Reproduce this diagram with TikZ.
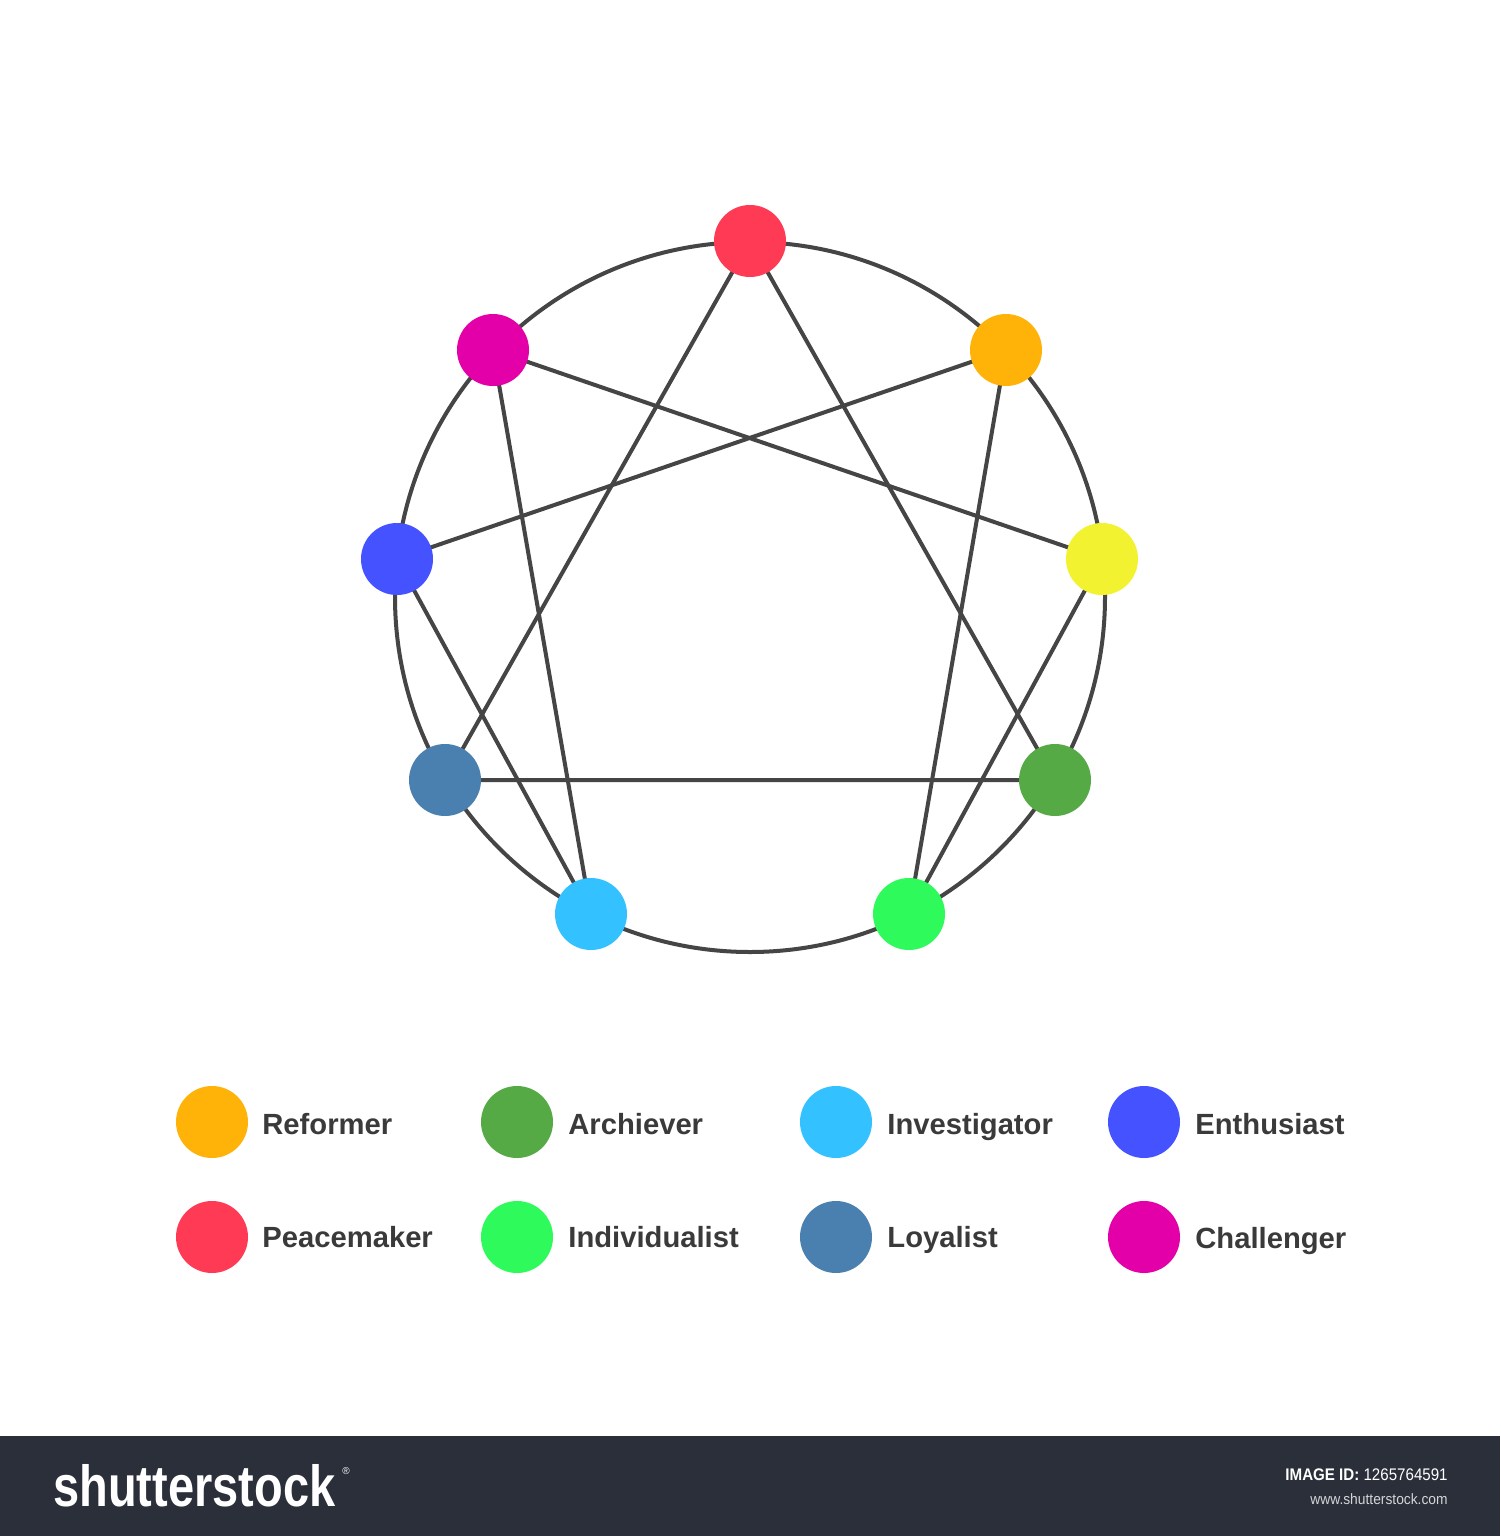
\documentclass[tikz,border=0pt]{standalone}
\usepackage{fontspec}
\setmainfont{Liberation Sans}
\begin{document}
\begin{tikzpicture}[x=0.5pt,y=-0.5pt,
  dot/.style={circle,minimum size=36pt,inner sep=0pt,draw=none},
  link/.style={draw=linegray,line width=2pt},
  legtext/.style={anchor=base west,inner sep=0pt,font=\bfseries\fontsize{14.6pt}{16pt}\selectfont,text=textgray}]
\definecolor{linegray}{HTML}{454545}
\definecolor{textgray}{HTML}{3A3A3A}
\definecolor{cRed}{HTML}{FF3A55}
\definecolor{cOrange}{HTML}{FFB208}
\definecolor{cYellow}{HTML}{F2F230}
\definecolor{cGreen}{HTML}{55AA45}
\definecolor{cLGreen}{HTML}{2EFA5C}
\definecolor{cLBlue}{HTML}{33C2FF}
\definecolor{cSteel}{HTML}{4A80B0}
\definecolor{cBlue}{HTML}{4452FF}
\definecolor{cMagenta}{HTML}{E300A8}
\definecolor{banner}{HTML}{2A2F3A}
\useasboundingbox (0,0) rectangle (1500,1536);
\fill[white] (0,0) rectangle (1500,1536);
% circle
\draw[link] (750,597) circle[radius=177.5pt];
% node coordinates
\coordinate (p9) at (750,241);
\coordinate (p1) at (1006,350);
\coordinate (p2) at (1102,559);
\coordinate (p3) at (1055,780);
\coordinate (p4) at (909,914);
\coordinate (p5) at (591,914);
\coordinate (p6) at (445,780);
\coordinate (p7) at (397,559);
\coordinate (p8) at (493,350);
% lines
\draw[link] (p9) -- (p3) -- (p6) -- cycle;
\draw[link] (p1) -- (p4) -- (p2) -- (p8) -- (p5) -- (p7) -- cycle;
% nodes
\node[dot,fill=cRed] (n9) at (p9) {};
\node[dot,fill=cOrange] (n1) at (p1) {};
\node[dot,fill=cYellow] (n2) at (p2) {};
\node[dot,fill=cGreen] (n3) at (p3) {};
\node[dot,fill=cLGreen] (n4) at (p4) {};
\node[dot,fill=cLBlue] (n5) at (p5) {};
\node[dot,fill=cSteel] (n6) at (p6) {};
\node[dot,fill=cBlue] (n7) at (p7) {};
\node[dot,fill=cMagenta] (n8) at (p8) {};
% legend
\node[dot,fill=cOrange] (l1) at (212,1122) {};
\node[legtext] (t1) at (262,1134) {Reformer};
\node[dot,fill=cRed] (l9) at (212,1237) {};
\node[legtext] (t9) at (262,1247) {Peacemaker};
\node[dot,fill=cGreen] (l3) at (517,1122) {};
\node[legtext] (t3) at (568,1134) {Archiever};
\node[dot,fill=cLGreen] (l4) at (517,1237) {};
\node[legtext] (t4) at (568,1247) {Individualist};
\node[dot,fill=cLBlue] (l5) at (836,1122) {};
\node[legtext] (t5) at (887,1134) {Investigator};
\node[dot,fill=cSteel] (l6) at (836,1237) {};
\node[legtext] (t6) at (887,1247) {Loyalist};
\node[dot,fill=cBlue] (l7) at (1144,1122) {};
\node[legtext] (t7) at (1195,1134) {Enthusiast};
\node[dot,fill=cMagenta] (l8) at (1144,1237) {};
\node[legtext] (t8) at (1195,1248) {Challenger};
% banner
\fill[banner] (0,1436) rectangle (1500,1536);
\node[anchor=base west,inner sep=0pt,text=white,xscale=0.81,font=\bfseries\fontsize{29pt}{30pt}\selectfont] (logo) at (53,1506) {shutterstock};
\node[anchor=base west,inner sep=0pt,text=white,font=\fontsize{5pt}{6pt}\selectfont] (reg) at (342,1474) {®};
\node[anchor=base east,inner sep=0pt,text=white,xscale=0.9,font=\fontsize{8.4pt}{9pt}\selectfont] (imgid) at (1448,1480) {\textbf{IMAGE ID:} 1265764591};
\node[anchor=base east,inner sep=0pt,text=white!80!banner,xscale=0.92,font=\fontsize{7.5pt}{8pt}\selectfont] (www) at (1448,1504) {www.shutterstock.com};
\end{tikzpicture}
\end{document}
